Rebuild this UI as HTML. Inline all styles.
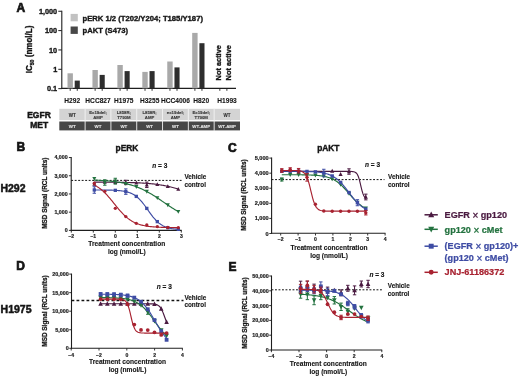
<!DOCTYPE html>
<html><head><meta charset="utf-8"><style>
html,body{margin:0;padding:0;background:#fff;}
svg{display:block;font-family:"Liberation Sans", Arial, sans-serif;}
</style></head><body>
<svg width="520" height="377" viewBox="0 0 520 377">
<rect width="520" height="377" fill="#fff"/>
<text x="16.60" y="12.20" font-size="12" text-anchor="start" font-weight="bold" fill="#151515" stroke="#151515" stroke-width="0.7">A</text>
<line x1="61.80" y1="10.75" x2="61.80" y2="88.90" stroke="#1e1e1e" stroke-width="1.1" />
<line x1="58.30" y1="11.25" x2="61.80" y2="11.25" stroke="#1e1e1e" stroke-width="1" />
<text x="57.20" y="13.85" font-size="7.3" text-anchor="end" font-weight="bold" fill="#151515" stroke="#151515" stroke-width="0.328">1,000</text>
<line x1="58.30" y1="30.60" x2="61.80" y2="30.60" stroke="#1e1e1e" stroke-width="1" />
<text x="57.20" y="33.20" font-size="7.3" text-anchor="end" font-weight="bold" fill="#151515" stroke="#151515" stroke-width="0.328">100</text>
<line x1="58.30" y1="49.95" x2="61.80" y2="49.95" stroke="#1e1e1e" stroke-width="1" />
<text x="57.20" y="52.55" font-size="7.3" text-anchor="end" font-weight="bold" fill="#151515" stroke="#151515" stroke-width="0.328">10</text>
<line x1="58.30" y1="69.30" x2="61.80" y2="69.30" stroke="#1e1e1e" stroke-width="1" />
<text x="57.20" y="71.90" font-size="7.3" text-anchor="end" font-weight="bold" fill="#151515" stroke="#151515" stroke-width="0.328">1</text>
<line x1="58.30" y1="88.65" x2="61.80" y2="88.65" stroke="#1e1e1e" stroke-width="1" />
<text x="57.20" y="91.25" font-size="7.3" text-anchor="end" font-weight="bold" fill="#151515" stroke="#151515" stroke-width="0.328">0.1</text>
<line x1="61.30" y1="88.40" x2="236.00" y2="88.40" stroke="#1e1e1e" stroke-width="1.1" />
<text transform="translate(31.6,49.5) rotate(-90)" font-size="8.6" text-anchor="middle" font-weight="bold" fill="#151515" stroke="#151515" stroke-width="0.35" textLength="47.6" lengthAdjust="spacingAndGlyphs">IC<tspan font-size="5.6" dy="2.1">50</tspan><tspan dy="-2.1"> (nmol/L)</tspan></text>
<rect x="67.50" y="73.30" width="5.40" height="15.10" fill="#a9a9a9"/>
<rect x="74.70" y="80.60" width="5.10" height="7.80" fill="#2e2e2e"/>
<rect x="92.44" y="70.00" width="5.40" height="18.40" fill="#a9a9a9"/>
<rect x="99.64" y="74.90" width="5.10" height="13.50" fill="#2e2e2e"/>
<rect x="117.38" y="65.00" width="5.40" height="23.40" fill="#a9a9a9"/>
<rect x="124.58" y="71.10" width="5.10" height="17.30" fill="#2e2e2e"/>
<rect x="142.32" y="71.90" width="5.40" height="16.50" fill="#a9a9a9"/>
<rect x="149.52" y="71.10" width="5.10" height="17.30" fill="#2e2e2e"/>
<rect x="167.26" y="61.50" width="5.40" height="26.90" fill="#a9a9a9"/>
<rect x="174.46" y="67.40" width="5.10" height="21.00" fill="#2e2e2e"/>
<rect x="192.20" y="32.90" width="5.40" height="55.50" fill="#a9a9a9"/>
<rect x="199.40" y="43.20" width="5.10" height="45.20" fill="#2e2e2e"/>
<line x1="70.20" y1="88.40" x2="70.20" y2="90.80" stroke="#1e1e1e" stroke-width="0.9" />
<line x1="77.25" y1="88.40" x2="77.25" y2="90.80" stroke="#1e1e1e" stroke-width="0.9" />
<line x1="95.14" y1="88.40" x2="95.14" y2="90.80" stroke="#1e1e1e" stroke-width="0.9" />
<line x1="102.19" y1="88.40" x2="102.19" y2="90.80" stroke="#1e1e1e" stroke-width="0.9" />
<line x1="120.08" y1="88.40" x2="120.08" y2="90.80" stroke="#1e1e1e" stroke-width="0.9" />
<line x1="127.13" y1="88.40" x2="127.13" y2="90.80" stroke="#1e1e1e" stroke-width="0.9" />
<line x1="145.02" y1="88.40" x2="145.02" y2="90.80" stroke="#1e1e1e" stroke-width="0.9" />
<line x1="152.07" y1="88.40" x2="152.07" y2="90.80" stroke="#1e1e1e" stroke-width="0.9" />
<line x1="169.96" y1="88.40" x2="169.96" y2="90.80" stroke="#1e1e1e" stroke-width="0.9" />
<line x1="177.01" y1="88.40" x2="177.01" y2="90.80" stroke="#1e1e1e" stroke-width="0.9" />
<line x1="194.90" y1="88.40" x2="194.90" y2="90.80" stroke="#1e1e1e" stroke-width="0.9" />
<line x1="201.95" y1="88.40" x2="201.95" y2="90.80" stroke="#1e1e1e" stroke-width="0.9" />
<line x1="219.84" y1="88.40" x2="219.84" y2="90.80" stroke="#1e1e1e" stroke-width="0.9" />
<line x1="226.89" y1="88.40" x2="226.89" y2="90.80" stroke="#1e1e1e" stroke-width="0.9" />
<text transform="translate(221.20,62.8) rotate(-90)" font-size="7.4" text-anchor="middle" font-weight="bold" fill="#151515" stroke="#151515" stroke-width="0.333">Not active</text>
<text transform="translate(231.00,62.8) rotate(-90)" font-size="7.4" text-anchor="middle" font-weight="bold" fill="#151515" stroke="#151515" stroke-width="0.333">Not active</text>
<rect x="70.60" y="13.90" width="7.20" height="7.40" fill="#c2c2c2"/>
<rect x="70.60" y="26.50" width="7.20" height="7.40" fill="#484848"/>
<text x="82.50" y="21.20" font-size="7.66" text-anchor="start" font-weight="bold" fill="#151515" stroke="#151515" stroke-width="0.345">pERK 1/2 (T202/Y204; T185/Y187)</text>
<text x="82.50" y="32.60" font-size="7.66" text-anchor="start" font-weight="bold" fill="#151515" stroke="#151515" stroke-width="0.345">pAKT (S473)</text>
<text x="72.20" y="103.10" font-size="6.6" text-anchor="middle" font-weight="bold" fill="#151515" stroke="#151515" stroke-width="0.1">H292</text>
<text x="98.01" y="103.10" font-size="6.6" text-anchor="middle" font-weight="bold" fill="#151515" stroke="#151515" stroke-width="0.1">HCC827</text>
<text x="123.82" y="103.10" font-size="6.6" text-anchor="middle" font-weight="bold" fill="#151515" stroke="#151515" stroke-width="0.1">H1975</text>
<text x="149.63" y="103.10" font-size="6.6" text-anchor="middle" font-weight="bold" fill="#151515" stroke="#151515" stroke-width="0.1">H3255</text>
<text x="175.44" y="103.10" font-size="6.6" text-anchor="middle" font-weight="bold" fill="#151515" stroke="#151515" stroke-width="0.1">HCC4006</text>
<text x="201.25" y="103.10" font-size="6.6" text-anchor="middle" font-weight="bold" fill="#151515" stroke="#151515" stroke-width="0.1">H820</text>
<text x="227.06" y="103.10" font-size="6.6" text-anchor="middle" font-weight="bold" fill="#151515" stroke="#151515" stroke-width="0.1">H1993</text>
<text x="27.20" y="118.00" font-size="8.5" text-anchor="start" font-weight="bold" fill="#151515" stroke="#151515" stroke-width="0.45">EGFR</text>
<text x="30.20" y="128.10" font-size="8.5" text-anchor="start" font-weight="bold" fill="#151515" stroke="#151515" stroke-width="0.45">MET</text>
<rect x="59.30" y="108.80" width="180.70" height="11.30" fill="#d4d4d4"/>
<rect x="59.30" y="121.50" width="180.70" height="8.90" fill="#474747"/>
<line x1="85.11" y1="108.80" x2="85.11" y2="130.80" stroke="#f4f4f4" stroke-width="0.9" />
<line x1="110.92" y1="108.80" x2="110.92" y2="130.80" stroke="#f4f4f4" stroke-width="0.9" />
<line x1="136.73" y1="108.80" x2="136.73" y2="130.80" stroke="#f4f4f4" stroke-width="0.9" />
<line x1="162.54" y1="108.80" x2="162.54" y2="130.80" stroke="#f4f4f4" stroke-width="0.9" />
<line x1="188.35" y1="108.80" x2="188.35" y2="130.80" stroke="#f4f4f4" stroke-width="0.9" />
<line x1="214.16" y1="108.80" x2="214.16" y2="130.80" stroke="#f4f4f4" stroke-width="0.9" />
<text x="72.20" y="116.90" font-size="4.5" text-anchor="middle" font-weight="bold" fill="#333" stroke="#333" stroke-width="0.12">WT</text>
<text x="72.20" y="127.90" font-size="4.4" text-anchor="middle" font-weight="bold" fill="#e6e6e6" stroke="#e6e6e6" stroke-width="0.1">WT</text>
<text x="98.01" y="114.20" font-size="4.3" text-anchor="middle" font-weight="bold" fill="#333" stroke="#333" stroke-width="0.1">Ex19del;</text>
<text x="98.01" y="118.70" font-size="4.3" text-anchor="middle" font-weight="bold" fill="#333" stroke="#333" stroke-width="0.1">AMP</text>
<text x="98.01" y="127.90" font-size="4.4" text-anchor="middle" font-weight="bold" fill="#e6e6e6" stroke="#e6e6e6" stroke-width="0.1">WT</text>
<text x="123.82" y="114.20" font-size="4.3" text-anchor="middle" font-weight="bold" fill="#333" stroke="#333" stroke-width="0.1">L858R;</text>
<text x="123.82" y="118.70" font-size="4.3" text-anchor="middle" font-weight="bold" fill="#333" stroke="#333" stroke-width="0.1">T790M</text>
<text x="123.82" y="127.90" font-size="4.4" text-anchor="middle" font-weight="bold" fill="#e6e6e6" stroke="#e6e6e6" stroke-width="0.1">WT</text>
<text x="149.63" y="114.20" font-size="4.3" text-anchor="middle" font-weight="bold" fill="#333" stroke="#333" stroke-width="0.1">L858R;</text>
<text x="149.63" y="118.70" font-size="4.3" text-anchor="middle" font-weight="bold" fill="#333" stroke="#333" stroke-width="0.1">AMP</text>
<text x="149.63" y="127.90" font-size="4.4" text-anchor="middle" font-weight="bold" fill="#e6e6e6" stroke="#e6e6e6" stroke-width="0.1">WT</text>
<text x="175.44" y="114.20" font-size="4.3" text-anchor="middle" font-weight="bold" fill="#333" stroke="#333" stroke-width="0.1">ex19del;</text>
<text x="175.44" y="118.70" font-size="4.3" text-anchor="middle" font-weight="bold" fill="#333" stroke="#333" stroke-width="0.1">AMP</text>
<text x="175.44" y="127.90" font-size="4.4" text-anchor="middle" font-weight="bold" fill="#e6e6e6" stroke="#e6e6e6" stroke-width="0.1">WT</text>
<text x="201.25" y="114.20" font-size="4.3" text-anchor="middle" font-weight="bold" fill="#333" stroke="#333" stroke-width="0.1">Ex19del;</text>
<text x="201.25" y="118.70" font-size="4.3" text-anchor="middle" font-weight="bold" fill="#333" stroke="#333" stroke-width="0.1">T790M</text>
<text x="201.25" y="127.90" font-size="4.4" text-anchor="middle" font-weight="bold" fill="#e6e6e6" stroke="#e6e6e6" stroke-width="0.1">WT-AMP</text>
<text x="227.06" y="116.90" font-size="4.5" text-anchor="middle" font-weight="bold" fill="#333" stroke="#333" stroke-width="0.12">WT</text>
<text x="227.06" y="127.90" font-size="4.4" text-anchor="middle" font-weight="bold" fill="#e6e6e6" stroke="#e6e6e6" stroke-width="0.1">WT-AMP</text>
<line x1="71.20" y1="157.02" x2="71.20" y2="230.90" stroke="#1e1e1e" stroke-width="1.1" />
<line x1="70.70" y1="230.40" x2="181.70" y2="230.40" stroke="#1e1e1e" stroke-width="1.1" />
<line x1="68.90" y1="230.40" x2="71.20" y2="230.40" stroke="#1e1e1e" stroke-width="0.9" />
<text x="67.70" y="232.31" font-size="5.3" text-anchor="end" font-weight="bold" fill="#1c1c1c" stroke="#1c1c1c" stroke-width="0.18">0</text>
<line x1="68.90" y1="212.18" x2="71.20" y2="212.18" stroke="#1e1e1e" stroke-width="0.9" />
<text x="67.70" y="214.09" font-size="5.3" text-anchor="end" font-weight="bold" fill="#1c1c1c" stroke="#1c1c1c" stroke-width="0.18">1,000</text>
<line x1="68.90" y1="193.96" x2="71.20" y2="193.96" stroke="#1e1e1e" stroke-width="0.9" />
<text x="67.70" y="195.87" font-size="5.3" text-anchor="end" font-weight="bold" fill="#1c1c1c" stroke="#1c1c1c" stroke-width="0.18">2,000</text>
<line x1="68.90" y1="175.74" x2="71.20" y2="175.74" stroke="#1e1e1e" stroke-width="0.9" />
<text x="67.70" y="177.65" font-size="5.3" text-anchor="end" font-weight="bold" fill="#1c1c1c" stroke="#1c1c1c" stroke-width="0.18">3,000</text>
<line x1="68.90" y1="157.52" x2="71.20" y2="157.52" stroke="#1e1e1e" stroke-width="0.9" />
<text x="67.70" y="159.43" font-size="5.3" text-anchor="end" font-weight="bold" fill="#1c1c1c" stroke="#1c1c1c" stroke-width="0.18">4,000</text>
<line x1="71.30" y1="230.40" x2="71.30" y2="232.60" stroke="#1e1e1e" stroke-width="0.9" />
<text x="71.30" y="238.00" font-size="5.1" text-anchor="middle" font-weight="bold" fill="#1c1c1c" stroke="#1c1c1c" stroke-width="0.18">−2</text>
<line x1="93.30" y1="230.40" x2="93.30" y2="232.60" stroke="#1e1e1e" stroke-width="0.9" />
<text x="93.30" y="238.00" font-size="5.1" text-anchor="middle" font-weight="bold" fill="#1c1c1c" stroke="#1c1c1c" stroke-width="0.18">−1</text>
<line x1="115.30" y1="230.40" x2="115.30" y2="232.60" stroke="#1e1e1e" stroke-width="0.9" />
<text x="115.30" y="238.00" font-size="5.1" text-anchor="middle" font-weight="bold" fill="#1c1c1c" stroke="#1c1c1c" stroke-width="0.18">0</text>
<line x1="137.30" y1="230.40" x2="137.30" y2="232.60" stroke="#1e1e1e" stroke-width="0.9" />
<text x="137.30" y="238.00" font-size="5.1" text-anchor="middle" font-weight="bold" fill="#1c1c1c" stroke="#1c1c1c" stroke-width="0.18">1</text>
<line x1="159.30" y1="230.40" x2="159.30" y2="232.60" stroke="#1e1e1e" stroke-width="0.9" />
<text x="159.30" y="238.00" font-size="5.1" text-anchor="middle" font-weight="bold" fill="#1c1c1c" stroke="#1c1c1c" stroke-width="0.18">2</text>
<line x1="181.30" y1="230.40" x2="181.30" y2="232.60" stroke="#1e1e1e" stroke-width="0.9" />
<text x="181.30" y="238.00" font-size="5.1" text-anchor="middle" font-weight="bold" fill="#1c1c1c" stroke="#1c1c1c" stroke-width="0.18">3</text>
<line x1="71.20" y1="180.40" x2="182.50" y2="180.40" stroke="#111" stroke-width="1.0" stroke-dasharray="1.9,1.6"/>
<path d="M94.30,182.16L95.23,182.16L96.17,182.16L97.10,182.17L98.03,182.17L98.97,182.17L99.90,182.18L100.83,182.18L101.77,182.19L102.70,182.19L103.63,182.19L104.57,182.20L105.50,182.20L106.43,182.21L107.37,182.22L108.30,182.22L109.23,182.23L110.17,182.24L111.10,182.24L112.03,182.25L112.97,182.26L113.90,182.27L114.83,182.28L115.77,182.29L116.70,182.30L117.63,182.31L118.57,182.32L119.50,182.33L120.43,182.35L121.37,182.36L122.30,182.38L123.23,182.39L124.17,182.41L125.10,182.43L126.03,182.45L126.97,182.47L127.90,182.49L128.83,182.51L129.77,182.54L130.70,182.57L131.63,182.59L132.57,182.62L133.50,182.65L134.43,182.69L135.37,182.72L136.30,182.76L137.23,182.80L138.17,182.84L139.10,182.88L140.03,182.93L140.97,182.98L141.90,183.03L142.83,183.09L143.77,183.15L144.70,183.21L145.63,183.27L146.57,183.34L147.50,183.42L148.43,183.49L149.37,183.57L150.30,183.66L151.23,183.75L152.17,183.84L153.10,183.94L154.03,184.05L154.97,184.16L155.90,184.27L156.83,184.40L157.77,184.52L158.70,184.66L159.63,184.80L160.57,184.95L161.50,185.10L162.43,185.26L163.37,185.43L164.30,185.60L165.23,185.78L166.17,185.97L167.10,186.17L168.03,186.38L168.97,186.59L169.90,186.81L170.83,187.03L171.77,187.27L172.70,187.51L173.63,187.76L174.57,188.02L175.50,188.28L176.43,188.55L177.37,188.83L178.30,189.11" stroke="#4a1a40" stroke-width="1.15" fill="none" />
<path d="M92.29,185.64L96.31,185.64L94.30,181.79Z" fill="#4a1a40"/>
<path d="M102.79,183.86L106.81,183.86L104.80,180.01Z" fill="#4a1a40"/>
<path d="M113.29,183.94L117.31,183.94L115.30,180.09Z" fill="#4a1a40"/>
<line x1="125.80" y1="180.26" x2="125.80" y2="184.63" stroke="#4a1a40" stroke-width="1.0" />
<line x1="124.10" y1="180.26" x2="127.50" y2="180.26" stroke="#4a1a40" stroke-width="1.0" />
<line x1="124.10" y1="184.63" x2="127.50" y2="184.63" stroke="#4a1a40" stroke-width="1.0" />
<path d="M123.79,184.11L127.81,184.11L125.80,180.26Z" fill="#4a1a40"/>
<path d="M134.29,184.42L138.31,184.42L136.30,180.57Z" fill="#4a1a40"/>
<line x1="146.80" y1="182.09" x2="146.80" y2="187.55" stroke="#4a1a40" stroke-width="1.0" />
<line x1="145.10" y1="182.09" x2="148.50" y2="182.09" stroke="#4a1a40" stroke-width="1.0" />
<line x1="145.10" y1="187.55" x2="148.50" y2="187.55" stroke="#4a1a40" stroke-width="1.0" />
<path d="M144.79,186.48L148.81,186.48L146.80,182.63Z" fill="#4a1a40"/>
<path d="M155.29,186.12L159.31,186.12L157.30,182.27Z" fill="#4a1a40"/>
<path d="M165.79,187.99L169.81,187.99L167.80,184.14Z" fill="#4a1a40"/>
<path d="M176.29,190.77L180.31,190.77L178.30,186.92Z" fill="#4a1a40"/>
<path d="M94.30,180.07L95.23,180.11L96.17,180.15L97.10,180.19L98.03,180.24L98.97,180.29L99.90,180.34L100.83,180.40L101.77,180.45L102.70,180.51L103.63,180.58L104.57,180.64L105.50,180.71L106.43,180.79L107.37,180.87L108.30,180.95L109.23,181.04L110.17,181.13L111.10,181.23L112.03,181.33L112.97,181.44L113.90,181.55L114.83,181.67L115.77,181.79L116.70,181.93L117.63,182.06L118.57,182.21L119.50,182.36L120.43,182.52L121.37,182.69L122.30,182.87L123.23,183.05L124.17,183.25L125.10,183.45L126.03,183.67L126.97,183.89L127.90,184.12L128.83,184.37L129.77,184.62L130.70,184.89L131.63,185.17L132.57,185.46L133.50,185.76L134.43,186.08L135.37,186.40L136.30,186.75L137.23,187.10L138.17,187.47L139.10,187.85L140.03,188.24L140.97,188.65L141.90,189.07L142.83,189.51L143.77,189.96L144.70,190.42L145.63,190.90L146.57,191.39L147.50,191.90L148.43,192.41L149.37,192.94L150.30,193.49L151.23,194.04L152.17,194.60L153.10,195.18L154.03,195.77L154.97,196.36L155.90,196.96L156.83,197.58L157.77,198.19L158.70,198.82L159.63,199.45L160.57,200.08L161.50,200.72L162.43,201.36L163.37,202.00L164.30,202.64L165.23,203.28L166.17,203.92L167.10,204.55L168.03,205.19L168.97,205.81L169.90,206.43L170.83,207.05L171.77,207.66L172.70,208.26L173.63,208.85L174.57,209.43L175.50,210.00L176.43,210.56L177.37,211.10L178.30,211.64" stroke="#23723f" stroke-width="1.15" fill="none" />
<path d="M92.29,176.95L96.31,176.95L94.30,180.80Z" fill="#23723f"/>
<line x1="104.80" y1="179.75" x2="104.80" y2="185.22" stroke="#23723f" stroke-width="1.0" />
<line x1="103.10" y1="179.75" x2="106.50" y2="179.75" stroke="#23723f" stroke-width="1.0" />
<line x1="103.10" y1="185.22" x2="106.50" y2="185.22" stroke="#23723f" stroke-width="1.0" />
<path d="M102.79,180.82L106.81,180.82L104.80,184.67Z" fill="#23723f"/>
<line x1="115.30" y1="178.27" x2="115.30" y2="184.10" stroke="#23723f" stroke-width="1.0" />
<line x1="113.60" y1="178.27" x2="117.00" y2="178.27" stroke="#23723f" stroke-width="1.0" />
<line x1="113.60" y1="184.10" x2="117.00" y2="184.10" stroke="#23723f" stroke-width="1.0" />
<path d="M113.29,179.52L117.31,179.52L115.30,183.37Z" fill="#23723f"/>
<path d="M123.79,181.95L127.81,181.95L125.80,185.80Z" fill="#23723f"/>
<path d="M134.29,185.08L138.31,185.08L136.30,188.93Z" fill="#23723f"/>
<path d="M144.79,189.85L148.81,189.85L146.80,193.70Z" fill="#23723f"/>
<path d="M155.29,196.22L159.31,196.22L157.30,200.07Z" fill="#23723f"/>
<path d="M165.79,203.37L169.81,203.37L167.80,207.22Z" fill="#23723f"/>
<path d="M176.29,209.98L180.31,209.98L178.30,213.83Z" fill="#23723f"/>
<path d="M94.30,189.97L95.23,189.97L96.17,189.98L97.10,189.98L98.03,189.98L98.97,189.99L99.90,189.99L100.83,190.00L101.77,190.01L102.70,190.02L103.63,190.02L104.57,190.03L105.50,190.05L106.43,190.06L107.37,190.08L108.30,190.09L109.23,190.11L110.17,190.14L111.10,190.16L112.03,190.19L112.97,190.23L113.90,190.26L114.83,190.31L115.77,190.36L116.70,190.42L117.63,190.48L118.57,190.56L119.50,190.64L120.43,190.74L121.37,190.85L122.30,190.97L123.23,191.11L124.17,191.27L125.10,191.45L126.03,191.66L126.97,191.89L127.90,192.15L128.83,192.44L129.77,192.77L130.70,193.14L131.63,193.55L132.57,194.01L133.50,194.52L134.43,195.09L135.37,195.71L136.30,196.40L137.23,197.15L138.17,197.97L139.10,198.86L140.03,199.81L140.97,200.83L141.90,201.92L142.83,203.06L143.77,204.25L144.70,205.50L145.63,206.78L146.57,208.08L147.50,209.40L148.43,210.73L149.37,212.05L150.30,213.35L151.23,214.62L152.17,215.85L153.10,217.04L154.03,218.17L154.97,219.23L155.90,220.24L156.83,221.18L157.77,222.05L158.70,222.85L159.63,223.58L160.57,224.25L161.50,224.86L162.43,225.42L163.37,225.92L164.30,226.36L165.23,226.76L166.17,227.12L167.10,227.44L168.03,227.73L168.97,227.98L169.90,228.20L170.83,228.40L171.77,228.58L172.70,228.73L173.63,228.87L174.57,228.99L175.50,229.09L176.43,229.19L177.37,229.27L178.30,229.34" stroke="#3e4ca4" stroke-width="1.15" fill="none" />
<line x1="94.30" y1="186.69" x2="94.30" y2="193.25" stroke="#3e4ca4" stroke-width="1.0" />
<line x1="92.60" y1="186.69" x2="96.00" y2="186.69" stroke="#3e4ca4" stroke-width="1.0" />
<line x1="92.60" y1="193.25" x2="96.00" y2="193.25" stroke="#3e4ca4" stroke-width="1.0" />
<rect x="92.64" y="188.31" width="3.32" height="3.32" fill="#3e4ca4"/>
<rect x="113.64" y="188.67" width="3.32" height="3.32" fill="#3e4ca4"/>
<line x1="125.80" y1="188.87" x2="125.80" y2="194.34" stroke="#3e4ca4" stroke-width="1.0" />
<line x1="124.10" y1="188.87" x2="127.50" y2="188.87" stroke="#3e4ca4" stroke-width="1.0" />
<line x1="124.10" y1="194.34" x2="127.50" y2="194.34" stroke="#3e4ca4" stroke-width="1.0" />
<rect x="124.14" y="189.94" width="3.32" height="3.32" fill="#3e4ca4"/>
<rect x="134.64" y="194.74" width="3.32" height="3.32" fill="#3e4ca4"/>
<rect x="145.14" y="206.75" width="3.32" height="3.32" fill="#3e4ca4"/>
<rect x="155.64" y="219.96" width="3.32" height="3.32" fill="#3e4ca4"/>
<rect x="166.14" y="226.00" width="3.32" height="3.32" fill="#3e4ca4"/>
<rect x="176.64" y="227.68" width="3.32" height="3.32" fill="#3e4ca4"/>
<path d="M94.30,185.08L95.23,185.56L96.17,186.07L97.10,186.63L98.03,187.22L98.97,187.85L99.90,188.53L100.83,189.25L101.77,190.01L102.70,190.81L103.63,191.66L104.57,192.55L105.50,193.49L106.43,194.46L107.37,195.47L108.30,196.51L109.23,197.59L110.17,198.69L111.10,199.81L112.03,200.95L112.97,202.11L113.90,203.27L114.83,204.44L115.77,205.60L116.70,206.75L117.63,207.89L118.57,209.01L119.50,210.10L120.43,211.17L121.37,212.20L122.30,213.20L123.23,214.17L124.17,215.09L125.10,215.97L126.03,216.81L126.97,217.60L127.90,218.35L128.83,219.06L129.77,219.73L130.70,220.35L131.63,220.93L132.57,221.48L133.50,221.98L134.43,222.45L135.37,222.89L136.30,223.29L137.23,223.66L138.17,224.00L139.10,224.32L140.03,224.61L140.97,224.88L141.90,225.12L142.83,225.34L143.77,225.55L144.70,225.74L145.63,225.91L146.57,226.07L147.50,226.21L148.43,226.34L149.37,226.46L150.30,226.57L151.23,226.67L152.17,226.76L153.10,226.84L154.03,226.92L154.97,226.99L155.90,227.05L156.83,227.11L157.77,227.16L158.70,227.20L159.63,227.25L160.57,227.29L161.50,227.32L162.43,227.35L163.37,227.38L164.30,227.41L165.23,227.43L166.17,227.45L167.10,227.47L168.03,227.49L168.97,227.51L169.90,227.52L170.83,227.54L171.77,227.55L172.70,227.56L173.63,227.57L174.57,227.58L175.50,227.59L176.43,227.59L177.37,227.60L178.30,227.61" stroke="#a82230" stroke-width="1.15" fill="none" />
<circle cx="94.30" cy="183.26" r="1.66" fill="#a82230"/>
<circle cx="104.80" cy="191.33" r="1.66" fill="#a82230"/>
<circle cx="115.30" cy="208.30" r="1.66" fill="#a82230"/>
<circle cx="125.80" cy="216.60" r="1.66" fill="#a82230"/>
<circle cx="136.30" cy="223.29" r="1.66" fill="#a82230"/>
<circle cx="146.80" cy="225.01" r="1.66" fill="#a82230"/>
<circle cx="157.30" cy="226.59" r="1.66" fill="#a82230"/>
<circle cx="167.80" cy="227.49" r="1.66" fill="#a82230"/>
<circle cx="178.30" cy="227.61" r="1.66" fill="#a82230"/>
<text x="127.00" y="150.50" font-size="8.4" text-anchor="middle" font-weight="bold" fill="#151515" stroke="#151515" stroke-width="0.378">pERK</text>
<text x="152.30" y="167.80" font-size="6.5" text-anchor="start" font-weight="bold" fill="#151515" stroke="#151515" stroke-width="0.15"><tspan font-style="italic">n</tspan> = 3</text>
<text x="184.40" y="179.30" font-size="6.35" text-anchor="start" font-weight="bold" fill="#151515" stroke="#151515" stroke-width="0.12">Vehicle</text>
<text x="184.40" y="187.00" font-size="6.35" text-anchor="start" font-weight="bold" fill="#151515" stroke="#151515" stroke-width="0.12">control</text>
<text x="126.80" y="246.20" font-size="6.6" text-anchor="middle" font-weight="bold" fill="#151515" stroke="#151515" stroke-width="0.12">Treatment concentration</text>
<text x="126.80" y="254.00" font-size="6.6" text-anchor="middle" font-weight="bold" fill="#151515" stroke="#151515" stroke-width="0.12">log (nmol/L)</text>
<text transform="translate(47.00,193.20) rotate(-90)" font-size="6.4" text-anchor="middle" font-weight="bold" fill="#151515" stroke="#151515" stroke-width="0.25">MSD Signal (RCL units)</text>
<line x1="271.60" y1="157.60" x2="271.60" y2="233.80" stroke="#1e1e1e" stroke-width="1.1" />
<line x1="271.10" y1="233.30" x2="385.50" y2="233.30" stroke="#1e1e1e" stroke-width="1.1" />
<line x1="269.30" y1="233.50" x2="271.60" y2="233.50" stroke="#1e1e1e" stroke-width="0.9" />
<text x="268.70" y="235.52" font-size="5.6" text-anchor="end" font-weight="bold" fill="#1c1c1c" stroke="#1c1c1c" stroke-width="0.18">0</text>
<line x1="269.30" y1="218.42" x2="271.60" y2="218.42" stroke="#1e1e1e" stroke-width="0.9" />
<text x="268.70" y="220.44" font-size="5.6" text-anchor="end" font-weight="bold" fill="#1c1c1c" stroke="#1c1c1c" stroke-width="0.18">1,000</text>
<line x1="269.30" y1="203.34" x2="271.60" y2="203.34" stroke="#1e1e1e" stroke-width="0.9" />
<text x="268.70" y="205.36" font-size="5.6" text-anchor="end" font-weight="bold" fill="#1c1c1c" stroke="#1c1c1c" stroke-width="0.18">2,000</text>
<line x1="269.30" y1="188.26" x2="271.60" y2="188.26" stroke="#1e1e1e" stroke-width="0.9" />
<text x="268.70" y="190.28" font-size="5.6" text-anchor="end" font-weight="bold" fill="#1c1c1c" stroke="#1c1c1c" stroke-width="0.18">3,000</text>
<line x1="269.30" y1="173.18" x2="271.60" y2="173.18" stroke="#1e1e1e" stroke-width="0.9" />
<text x="268.70" y="175.20" font-size="5.6" text-anchor="end" font-weight="bold" fill="#1c1c1c" stroke="#1c1c1c" stroke-width="0.18">4,000</text>
<line x1="269.30" y1="158.10" x2="271.60" y2="158.10" stroke="#1e1e1e" stroke-width="0.9" />
<text x="268.70" y="160.12" font-size="5.6" text-anchor="end" font-weight="bold" fill="#1c1c1c" stroke="#1c1c1c" stroke-width="0.18">5,000</text>
<line x1="280.70" y1="233.30" x2="280.70" y2="235.50" stroke="#1e1e1e" stroke-width="0.9" />
<text x="280.70" y="241.40" font-size="5.1" text-anchor="middle" font-weight="bold" fill="#1c1c1c" stroke="#1c1c1c" stroke-width="0.18">−2</text>
<line x1="298.10" y1="233.30" x2="298.10" y2="235.50" stroke="#1e1e1e" stroke-width="0.9" />
<text x="298.10" y="241.40" font-size="5.1" text-anchor="middle" font-weight="bold" fill="#1c1c1c" stroke="#1c1c1c" stroke-width="0.18">−1</text>
<line x1="315.50" y1="233.30" x2="315.50" y2="235.50" stroke="#1e1e1e" stroke-width="0.9" />
<text x="315.50" y="241.40" font-size="5.1" text-anchor="middle" font-weight="bold" fill="#1c1c1c" stroke="#1c1c1c" stroke-width="0.18">0</text>
<line x1="332.90" y1="233.30" x2="332.90" y2="235.50" stroke="#1e1e1e" stroke-width="0.9" />
<text x="332.90" y="241.40" font-size="5.1" text-anchor="middle" font-weight="bold" fill="#1c1c1c" stroke="#1c1c1c" stroke-width="0.18">1</text>
<line x1="350.30" y1="233.30" x2="350.30" y2="235.50" stroke="#1e1e1e" stroke-width="0.9" />
<text x="350.30" y="241.40" font-size="5.1" text-anchor="middle" font-weight="bold" fill="#1c1c1c" stroke="#1c1c1c" stroke-width="0.18">2</text>
<line x1="367.70" y1="233.30" x2="367.70" y2="235.50" stroke="#1e1e1e" stroke-width="0.9" />
<text x="367.70" y="241.40" font-size="5.1" text-anchor="middle" font-weight="bold" fill="#1c1c1c" stroke="#1c1c1c" stroke-width="0.18">3</text>
<line x1="385.10" y1="233.30" x2="385.10" y2="235.50" stroke="#1e1e1e" stroke-width="0.9" />
<text x="385.10" y="241.40" font-size="5.1" text-anchor="middle" font-weight="bold" fill="#1c1c1c" stroke="#1c1c1c" stroke-width="0.18">4</text>
<line x1="271.60" y1="179.60" x2="384.50" y2="179.60" stroke="#111" stroke-width="1.0" stroke-dasharray="1.9,1.6"/>
<path d="M281.80,171.37L282.73,171.37L283.67,171.37L284.60,171.37L285.53,171.37L286.47,171.37L287.40,171.37L288.33,171.37L289.27,171.37L290.20,171.37L291.13,171.37L292.07,171.37L293.00,171.37L293.93,171.37L294.87,171.37L295.80,171.37L296.73,171.37L297.67,171.37L298.60,171.37L299.53,171.37L300.47,171.37L301.40,171.37L302.33,171.37L303.27,171.37L304.20,171.37L305.13,171.37L306.07,171.37L307.00,171.37L307.93,171.37L308.87,171.37L309.80,171.37L310.73,171.37L311.67,171.37L312.60,171.37L313.53,171.37L314.47,171.37L315.40,171.37L316.33,171.37L317.27,171.37L318.20,171.37L319.13,171.37L320.07,171.37L321.00,171.37L321.93,171.37L322.87,171.37L323.80,171.37L324.73,171.37L325.67,171.37L326.60,171.37L327.53,171.37L328.47,171.37L329.40,171.37L330.33,171.37L331.27,171.37L332.20,171.37L333.13,171.37L334.07,171.37L335.00,171.37L335.93,171.37L336.87,171.37L337.80,171.37L338.73,171.37L339.67,171.37L340.60,171.37L341.53,171.37L342.47,171.37L343.40,171.37L344.33,171.37L345.27,171.37L346.20,171.37L347.13,171.38L348.07,171.38L349.00,171.39L349.93,171.41L350.87,171.43L351.80,171.48L352.73,171.57L353.67,171.72L354.60,171.99L355.53,172.45L356.47,173.23L357.40,174.52L358.33,176.53L359.27,179.40L360.20,183.06L361.13,187.09L362.07,190.86L363.00,193.91L363.93,196.08L364.87,197.49L365.80,198.36" stroke="#4a1a40" stroke-width="1.15" fill="none" />
<path d="M330.13,172.63L334.27,172.63L332.20,168.67Z" fill="#4a1a40"/>
<path d="M338.53,175.95L342.67,175.95L340.60,171.99Z" fill="#4a1a40"/>
<line x1="349.00" y1="168.81" x2="349.00" y2="174.24" stroke="#4a1a40" stroke-width="1.0" />
<line x1="347.30" y1="168.81" x2="350.70" y2="168.81" stroke="#4a1a40" stroke-width="1.0" />
<line x1="347.30" y1="174.24" x2="350.70" y2="174.24" stroke="#4a1a40" stroke-width="1.0" />
<path d="M346.93,173.23L351.07,173.23L349.00,169.27Z" fill="#4a1a40"/>
<line x1="365.80" y1="194.14" x2="365.80" y2="199.87" stroke="#4a1a40" stroke-width="1.0" />
<line x1="364.10" y1="194.14" x2="367.50" y2="194.14" stroke="#4a1a40" stroke-width="1.0" />
<line x1="364.10" y1="199.87" x2="367.50" y2="199.87" stroke="#4a1a40" stroke-width="1.0" />
<path d="M363.73,198.72L367.87,198.72L365.80,194.76Z" fill="#4a1a40"/>
<path d="M281.80,174.70L282.73,174.70L283.67,174.70L284.60,174.70L285.53,174.70L286.47,174.70L287.40,174.71L288.33,174.71L289.27,174.71L290.20,174.71L291.13,174.72L292.07,174.72L293.00,174.73L293.93,174.73L294.87,174.74L295.80,174.74L296.73,174.75L297.67,174.75L298.60,174.76L299.53,174.77L300.47,174.78L301.40,174.79L302.33,174.81L303.27,174.82L304.20,174.84L305.13,174.86L306.07,174.88L307.00,174.90L307.93,174.92L308.87,174.95L309.80,174.99L310.73,175.02L311.67,175.06L312.60,175.11L313.53,175.16L314.47,175.21L315.40,175.28L316.33,175.35L317.27,175.43L318.20,175.51L319.13,175.61L320.07,175.72L321.00,175.84L321.93,175.98L322.87,176.13L323.80,176.30L324.73,176.49L325.67,176.70L326.60,176.93L327.53,177.18L328.47,177.46L329.40,177.77L330.33,178.12L331.27,178.49L332.20,178.90L333.13,179.35L334.07,179.85L335.00,180.38L335.93,180.96L336.87,181.58L337.80,182.26L338.73,182.98L339.67,183.75L340.60,184.56L341.53,185.42L342.47,186.33L343.40,187.27L344.33,188.26L345.27,189.27L346.20,190.31L347.13,191.38L348.07,192.45L349.00,193.54L349.93,194.62L350.87,195.70L351.80,196.76L352.73,197.80L353.67,198.82L354.60,199.80L355.53,200.75L356.47,201.65L357.40,202.51L358.33,203.33L359.27,204.10L360.20,204.82L361.13,205.49L362.07,206.12L363.00,206.70L363.93,207.23L364.87,207.72L365.80,208.17" stroke="#23723f" stroke-width="1.15" fill="none" />
<line x1="281.80" y1="178.02" x2="281.80" y2="181.03" stroke="#23723f" stroke-width="1.0" />
<line x1="280.10" y1="178.02" x2="283.50" y2="178.02" stroke="#23723f" stroke-width="1.0" />
<line x1="280.10" y1="181.03" x2="283.50" y2="181.03" stroke="#23723f" stroke-width="1.0" />
<path d="M279.73,177.81L283.87,177.81L281.80,181.77Z" fill="#23723f"/>
<path d="M288.13,173.00L292.27,173.00L290.20,176.96Z" fill="#23723f"/>
<path d="M296.53,173.05L300.67,173.05L298.60,177.01Z" fill="#23723f"/>
<path d="M304.93,173.19L309.07,173.19L307.00,177.15Z" fill="#23723f"/>
<path d="M313.33,173.57L317.47,173.57L315.40,177.53Z" fill="#23723f"/>
<path d="M321.73,174.59L325.87,174.59L323.80,178.55Z" fill="#23723f"/>
<path d="M330.13,177.19L334.27,177.19L332.20,181.15Z" fill="#23723f"/>
<path d="M338.53,182.85L342.67,182.85L340.60,186.81Z" fill="#23723f"/>
<path d="M346.93,191.83L351.07,191.83L349.00,195.79Z" fill="#23723f"/>
<path d="M355.33,200.80L359.47,200.80L357.40,204.76Z" fill="#23723f"/>
<path d="M363.73,206.46L367.87,206.46L365.80,210.42Z" fill="#23723f"/>
<path d="M281.80,171.23L282.73,171.23L283.67,171.23L284.60,171.23L285.53,171.24L286.47,171.24L287.40,171.24L288.33,171.24L289.27,171.25L290.20,171.25L291.13,171.25L292.07,171.26L293.00,171.26L293.93,171.27L294.87,171.27L295.80,171.28L296.73,171.29L297.67,171.30L298.60,171.30L299.53,171.31L300.47,171.33L301.40,171.34L302.33,171.35L303.27,171.37L304.20,171.39L305.13,171.41L306.07,171.43L307.00,171.46L307.93,171.49L308.87,171.52L309.80,171.56L310.73,171.60L311.67,171.64L312.60,171.69L313.53,171.75L314.47,171.81L315.40,171.89L316.33,171.97L317.27,172.05L318.20,172.15L319.13,172.27L320.07,172.39L321.00,172.53L321.93,172.68L322.87,172.85L323.80,173.04L324.73,173.26L325.67,173.49L326.60,173.75L327.53,174.04L328.47,174.36L329.40,174.71L330.33,175.10L331.27,175.52L332.20,175.99L333.13,176.50L334.07,177.06L335.00,177.66L335.93,178.32L336.87,179.03L337.80,179.79L338.73,180.60L339.67,181.47L340.60,182.40L341.53,183.37L342.47,184.40L343.40,185.47L344.33,186.58L345.27,187.73L346.20,188.91L347.13,190.11L348.07,191.33L349.00,192.56L349.93,193.78L350.87,195.00L351.80,196.21L352.73,197.39L353.67,198.54L354.60,199.65L355.53,200.72L356.47,201.74L357.40,202.72L358.33,203.64L359.27,204.51L360.20,205.33L361.13,206.09L362.07,206.80L363.00,207.45L363.93,208.06L364.87,208.61L365.80,209.12" stroke="#3e4ca4" stroke-width="1.15" fill="none" />
<rect x="280.09" y="169.52" width="3.42" height="3.42" fill="#3e4ca4"/>
<rect x="288.49" y="169.54" width="3.42" height="3.42" fill="#3e4ca4"/>
<rect x="296.89" y="169.59" width="3.42" height="3.42" fill="#3e4ca4"/>
<rect x="305.29" y="169.75" width="3.42" height="3.42" fill="#3e4ca4"/>
<rect x="313.69" y="170.18" width="3.42" height="3.42" fill="#3e4ca4"/>
<line x1="323.80" y1="169.27" x2="323.80" y2="176.81" stroke="#3e4ca4" stroke-width="1.0" />
<line x1="322.10" y1="169.27" x2="325.50" y2="169.27" stroke="#3e4ca4" stroke-width="1.0" />
<line x1="322.10" y1="176.81" x2="325.50" y2="176.81" stroke="#3e4ca4" stroke-width="1.0" />
<rect x="322.09" y="171.33" width="3.42" height="3.42" fill="#3e4ca4"/>
<rect x="330.49" y="174.28" width="3.42" height="3.42" fill="#3e4ca4"/>
<rect x="338.89" y="180.69" width="3.42" height="3.42" fill="#3e4ca4"/>
<rect x="347.29" y="190.85" width="3.42" height="3.42" fill="#3e4ca4"/>
<line x1="357.40" y1="199.70" x2="357.40" y2="205.74" stroke="#3e4ca4" stroke-width="1.0" />
<line x1="355.70" y1="199.70" x2="359.10" y2="199.70" stroke="#3e4ca4" stroke-width="1.0" />
<line x1="355.70" y1="205.74" x2="359.10" y2="205.74" stroke="#3e4ca4" stroke-width="1.0" />
<rect x="355.69" y="201.01" width="3.42" height="3.42" fill="#3e4ca4"/>
<rect x="364.09" y="207.41" width="3.42" height="3.42" fill="#3e4ca4"/>
<path d="M281.80,170.47L282.73,170.47L283.67,170.47L284.60,170.47L285.53,170.47L286.47,170.47L287.40,170.47L288.33,170.47L289.27,170.47L290.20,170.47L291.13,170.48L292.07,170.48L293.00,170.49L293.93,170.50L294.87,170.52L295.80,170.55L296.73,170.59L297.67,170.64L298.60,170.73L299.53,170.85L300.47,171.02L301.40,171.28L302.33,171.65L303.27,172.18L304.20,172.94L305.13,173.99L306.07,175.44L307.00,177.37L307.93,179.85L308.87,182.90L309.80,186.44L310.73,190.28L311.67,194.15L312.60,197.80L313.53,200.99L314.47,203.64L315.40,205.72L316.33,207.30L317.27,208.45L318.20,209.28L319.13,209.87L320.07,210.28L321.00,210.56L321.93,210.76L322.87,210.89L323.80,210.98L324.73,211.05L325.67,211.09L326.60,211.12L327.53,211.14L328.47,211.15L329.40,211.16L330.33,211.17L331.27,211.17L332.20,211.18L333.13,211.18L334.07,211.18L335.00,211.18L335.93,211.18L336.87,211.18L337.80,211.18L338.73,211.18L339.67,211.18L340.60,211.18L341.53,211.18L342.47,211.18L343.40,211.18L344.33,211.18L345.27,211.18L346.20,211.18L347.13,211.18L348.07,211.18L349.00,211.18L349.93,211.18L350.87,211.18L351.80,211.18L352.73,211.18L353.67,211.18L354.60,211.18L355.53,211.18L356.47,211.18L357.40,211.18L358.33,211.18L359.27,211.18L360.20,211.18L361.13,211.18L362.07,211.18L363.00,211.18L363.93,211.18L364.87,211.18L365.80,211.18" stroke="#a82230" stroke-width="1.15" fill="none" />
<line x1="281.80" y1="168.66" x2="281.80" y2="172.28" stroke="#a82230" stroke-width="1.0" />
<line x1="280.10" y1="168.66" x2="283.50" y2="168.66" stroke="#a82230" stroke-width="1.0" />
<line x1="280.10" y1="172.28" x2="283.50" y2="172.28" stroke="#a82230" stroke-width="1.0" />
<circle cx="281.80" cy="170.47" r="1.71" fill="#a82230"/>
<line x1="290.20" y1="167.76" x2="290.20" y2="171.38" stroke="#a82230" stroke-width="1.0" />
<line x1="288.50" y1="167.76" x2="291.90" y2="167.76" stroke="#a82230" stroke-width="1.0" />
<line x1="288.50" y1="171.38" x2="291.90" y2="171.38" stroke="#a82230" stroke-width="1.0" />
<circle cx="290.20" cy="169.57" r="1.71" fill="#a82230"/>
<line x1="298.60" y1="168.46" x2="298.60" y2="172.99" stroke="#a82230" stroke-width="1.0" />
<line x1="296.90" y1="168.46" x2="300.30" y2="168.46" stroke="#a82230" stroke-width="1.0" />
<line x1="296.90" y1="172.99" x2="300.30" y2="172.99" stroke="#a82230" stroke-width="1.0" />
<circle cx="298.60" cy="170.73" r="1.71" fill="#a82230"/>
<line x1="307.00" y1="173.60" x2="307.00" y2="181.14" stroke="#a82230" stroke-width="1.0" />
<line x1="305.30" y1="173.60" x2="308.70" y2="173.60" stroke="#a82230" stroke-width="1.0" />
<line x1="305.30" y1="181.14" x2="308.70" y2="181.14" stroke="#a82230" stroke-width="1.0" />
<circle cx="307.00" cy="177.37" r="1.71" fill="#a82230"/>
<circle cx="315.40" cy="204.21" r="1.71" fill="#a82230"/>
<circle cx="323.80" cy="210.98" r="1.71" fill="#a82230"/>
<circle cx="332.20" cy="211.18" r="1.71" fill="#a82230"/>
<circle cx="340.60" cy="211.18" r="1.71" fill="#a82230"/>
<circle cx="349.00" cy="211.18" r="1.71" fill="#a82230"/>
<circle cx="357.40" cy="211.18" r="1.71" fill="#a82230"/>
<line x1="365.80" y1="210.43" x2="365.80" y2="214.95" stroke="#a82230" stroke-width="1.0" />
<line x1="364.10" y1="210.43" x2="367.50" y2="210.43" stroke="#a82230" stroke-width="1.0" />
<line x1="364.10" y1="214.95" x2="367.50" y2="214.95" stroke="#a82230" stroke-width="1.0" />
<circle cx="365.80" cy="212.69" r="1.71" fill="#a82230"/>
<text x="328.30" y="150.60" font-size="8.4" text-anchor="middle" font-weight="bold" fill="#151515" stroke="#151515" stroke-width="0.378">pAKT</text>
<text x="365.00" y="167.40" font-size="6.5" text-anchor="start" font-weight="bold" fill="#151515" stroke="#151515" stroke-width="0.15"><tspan font-style="italic">n</tspan> = 3</text>
<text x="388.10" y="179.20" font-size="6.35" text-anchor="start" font-weight="bold" fill="#151515" stroke="#151515" stroke-width="0.12">Vehicle</text>
<text x="388.10" y="186.90" font-size="6.35" text-anchor="start" font-weight="bold" fill="#151515" stroke="#151515" stroke-width="0.12">control</text>
<text x="329.00" y="250.00" font-size="6.6" text-anchor="middle" font-weight="bold" fill="#151515" stroke="#151515" stroke-width="0.12">Treatment concentration</text>
<text x="329.00" y="257.80" font-size="6.6" text-anchor="middle" font-weight="bold" fill="#151515" stroke="#151515" stroke-width="0.12">log (nmol/L)</text>
<text transform="translate(246.20,195.00) rotate(-90)" font-size="6.4" text-anchor="middle" font-weight="bold" fill="#151515" stroke="#151515" stroke-width="0.25">MSD Signal (RCL units)</text>
<line x1="71.50" y1="273.60" x2="71.50" y2="348.80" stroke="#1e1e1e" stroke-width="1.1" />
<line x1="71.00" y1="348.30" x2="182.80" y2="348.30" stroke="#1e1e1e" stroke-width="1.1" />
<line x1="69.20" y1="348.30" x2="71.50" y2="348.30" stroke="#1e1e1e" stroke-width="0.9" />
<text x="68.70" y="350.24" font-size="5.4" text-anchor="end" font-weight="bold" fill="#1c1c1c" stroke="#1c1c1c" stroke-width="0.18">0</text>
<line x1="69.20" y1="329.75" x2="71.50" y2="329.75" stroke="#1e1e1e" stroke-width="0.9" />
<text x="68.70" y="331.69" font-size="5.4" text-anchor="end" font-weight="bold" fill="#1c1c1c" stroke="#1c1c1c" stroke-width="0.18">5,000</text>
<line x1="69.20" y1="311.20" x2="71.50" y2="311.20" stroke="#1e1e1e" stroke-width="0.9" />
<text x="68.70" y="313.14" font-size="5.4" text-anchor="end" font-weight="bold" fill="#1c1c1c" stroke="#1c1c1c" stroke-width="0.18">10,000</text>
<line x1="69.20" y1="292.65" x2="71.50" y2="292.65" stroke="#1e1e1e" stroke-width="0.9" />
<text x="68.70" y="294.59" font-size="5.4" text-anchor="end" font-weight="bold" fill="#1c1c1c" stroke="#1c1c1c" stroke-width="0.18">15,000</text>
<line x1="69.20" y1="274.10" x2="71.50" y2="274.10" stroke="#1e1e1e" stroke-width="0.9" />
<text x="68.70" y="276.04" font-size="5.4" text-anchor="end" font-weight="bold" fill="#1c1c1c" stroke="#1c1c1c" stroke-width="0.18">20,000</text>
<line x1="71.20" y1="348.30" x2="71.20" y2="350.50" stroke="#1e1e1e" stroke-width="0.9" />
<text x="71.20" y="356.60" font-size="5.1" text-anchor="middle" font-weight="bold" fill="#1c1c1c" stroke="#1c1c1c" stroke-width="0.18">−4</text>
<line x1="99.00" y1="348.30" x2="99.00" y2="350.50" stroke="#1e1e1e" stroke-width="0.9" />
<text x="99.00" y="356.60" font-size="5.1" text-anchor="middle" font-weight="bold" fill="#1c1c1c" stroke="#1c1c1c" stroke-width="0.18">−2</text>
<line x1="126.80" y1="348.30" x2="126.80" y2="350.50" stroke="#1e1e1e" stroke-width="0.9" />
<text x="126.80" y="356.60" font-size="5.1" text-anchor="middle" font-weight="bold" fill="#1c1c1c" stroke="#1c1c1c" stroke-width="0.18">0</text>
<line x1="154.60" y1="348.30" x2="154.60" y2="350.50" stroke="#1e1e1e" stroke-width="0.9" />
<text x="154.60" y="356.60" font-size="5.1" text-anchor="middle" font-weight="bold" fill="#1c1c1c" stroke="#1c1c1c" stroke-width="0.18">2</text>
<line x1="182.40" y1="348.30" x2="182.40" y2="350.50" stroke="#1e1e1e" stroke-width="0.9" />
<text x="182.40" y="356.60" font-size="5.1" text-anchor="middle" font-weight="bold" fill="#1c1c1c" stroke="#1c1c1c" stroke-width="0.18">4</text>
<line x1="71.50" y1="300.50" x2="183.50" y2="300.50" stroke="#111" stroke-width="1.5" stroke-dasharray="2.8,2.2"/>
<path d="M100.60,303.78L101.33,303.78L102.07,303.78L102.80,303.78L103.53,303.78L104.27,303.78L105.00,303.78L105.73,303.78L106.47,303.78L107.20,303.78L107.93,303.78L108.67,303.78L109.40,303.78L110.13,303.78L110.87,303.78L111.60,303.78L112.33,303.78L113.07,303.78L113.80,303.78L114.53,303.78L115.27,303.78L116.00,303.78L116.73,303.78L117.47,303.78L118.20,303.78L118.93,303.78L119.67,303.78L120.40,303.78L121.13,303.78L121.87,303.78L122.60,303.78L123.33,303.78L124.07,303.78L124.80,303.78L125.53,303.78L126.27,303.78L127.00,303.78L127.73,303.78L128.47,303.78L129.20,303.78L129.93,303.78L130.67,303.78L131.40,303.78L132.13,303.78L132.87,303.78L133.60,303.78L134.33,303.78L135.07,303.78L135.80,303.78L136.53,303.78L137.27,303.78L138.00,303.78L138.74,303.78L139.47,303.78L140.20,303.78L140.94,303.78L141.67,303.78L142.40,303.78L143.14,303.78L143.87,303.78L144.60,303.79L145.34,303.79L146.07,303.79L146.80,303.79L147.54,303.80L148.27,303.80L149.00,303.81L149.74,303.83L150.47,303.84L151.20,303.87L151.94,303.90L152.67,303.94L153.40,304.00L154.14,304.08L154.87,304.18L155.60,304.33L156.34,304.52L157.07,304.79L157.80,305.14L158.54,305.60L159.27,306.21L160.00,306.99L160.74,307.99L161.47,309.21L162.20,310.68L162.94,312.38L163.67,314.26L164.40,316.27L165.14,318.29L165.87,320.25L166.60,322.05" stroke="#4a1a40" stroke-width="1.15" fill="none" />
<path d="M98.30,305.68L102.90,305.68L100.60,301.28Z" fill="#4a1a40"/>
<path d="M105.03,305.68L109.63,305.68L107.33,301.28Z" fill="#4a1a40"/>
<path d="M111.77,305.68L116.37,305.68L114.07,301.28Z" fill="#4a1a40"/>
<path d="M118.50,305.68L123.10,305.68L120.80,301.28Z" fill="#4a1a40"/>
<path d="M125.24,305.68L129.84,305.68L127.54,301.28Z" fill="#4a1a40"/>
<path d="M131.97,305.68L136.58,305.68L134.28,301.28Z" fill="#4a1a40"/>
<path d="M138.71,305.68L143.31,305.68L141.01,301.28Z" fill="#4a1a40"/>
<path d="M145.44,305.70L150.05,305.70L147.75,301.30Z" fill="#4a1a40"/>
<path d="M152.18,306.02L156.78,306.02L154.48,301.62Z" fill="#4a1a40"/>
<path d="M158.91,310.66L163.52,310.66L161.22,306.26Z" fill="#4a1a40"/>
<path d="M164.30,323.95L168.90,323.95L166.60,319.55Z" fill="#4a1a40"/>
<path d="M100.60,297.55L101.33,297.55L102.07,297.56L102.80,297.57L103.53,297.58L104.27,297.59L105.00,297.60L105.73,297.61L106.47,297.62L107.20,297.64L107.93,297.65L108.67,297.67L109.40,297.69L110.13,297.71L110.87,297.73L111.60,297.75L112.33,297.78L113.07,297.80L113.80,297.83L114.53,297.87L115.27,297.90L116.00,297.94L116.73,297.98L117.47,298.03L118.20,298.08L118.93,298.13L119.67,298.19L120.40,298.26L121.13,298.33L121.87,298.41L122.60,298.49L123.33,298.58L124.07,298.68L124.80,298.79L125.53,298.90L126.27,299.03L127.00,299.17L127.73,299.32L128.47,299.48L129.20,299.66L129.93,299.85L130.67,300.05L131.40,300.27L132.13,300.51L132.87,300.77L133.60,301.05L134.33,301.35L135.07,301.68L135.80,302.03L136.53,302.40L137.27,302.80L138.00,303.23L138.74,303.69L139.47,304.18L140.20,304.70L140.94,305.25L141.67,305.84L142.40,306.46L143.14,307.12L143.87,307.81L144.60,308.53L145.34,309.29L146.07,310.08L146.80,310.91L147.54,311.77L148.27,312.66L149.00,313.58L149.74,314.52L150.47,315.48L151.20,316.47L151.94,317.47L152.67,318.49L153.40,319.51L154.14,320.55L154.87,321.58L155.60,322.61L156.34,323.64L157.07,324.65L157.80,325.65L158.54,326.64L159.27,327.60L160.00,328.54L160.74,329.46L161.47,330.35L162.20,331.20L162.94,332.03L163.67,332.82L164.40,333.58L165.14,334.30L165.87,334.99L166.60,335.64" stroke="#23723f" stroke-width="1.15" fill="none" />
<path d="M98.30,295.65L102.90,295.65L100.60,300.05Z" fill="#23723f"/>
<path d="M105.03,295.74L109.63,295.74L107.33,300.14Z" fill="#23723f"/>
<path d="M111.77,295.94L116.37,295.94L114.07,300.34Z" fill="#23723f"/>
<path d="M118.50,296.40L123.10,296.40L120.80,300.80Z" fill="#23723f"/>
<path d="M125.24,297.38L129.84,297.38L127.54,301.78Z" fill="#23723f"/>
<path d="M131.97,299.43L136.58,299.43L134.28,303.83Z" fill="#23723f"/>
<path d="M138.71,303.41L143.31,303.41L141.01,307.81Z" fill="#23723f"/>
<line x1="147.75" y1="309.80" x2="147.75" y2="314.25" stroke="#23723f" stroke-width="1.0" />
<line x1="146.05" y1="309.80" x2="149.44" y2="309.80" stroke="#23723f" stroke-width="1.0" />
<line x1="146.05" y1="314.25" x2="149.44" y2="314.25" stroke="#23723f" stroke-width="1.0" />
<path d="M145.44,310.12L150.05,310.12L147.75,314.52Z" fill="#23723f"/>
<path d="M152.18,319.13L156.78,319.13L154.48,323.53Z" fill="#23723f"/>
<path d="M158.91,328.14L163.52,328.14L161.22,332.54Z" fill="#23723f"/>
<path d="M164.30,333.74L168.90,333.74L166.60,338.14Z" fill="#23723f"/>
<path d="M100.60,294.18L101.33,294.19L102.07,294.19L102.80,294.20L103.53,294.21L104.27,294.21L105.00,294.22L105.73,294.23L106.47,294.24L107.20,294.25L107.93,294.26L108.67,294.27L109.40,294.29L110.13,294.30L110.87,294.32L111.60,294.34L112.33,294.36L113.07,294.38L113.80,294.40L114.53,294.43L115.27,294.46L116.00,294.49L116.73,294.52L117.47,294.56L118.20,294.60L118.93,294.65L119.67,294.70L120.40,294.76L121.13,294.82L121.87,294.88L122.60,294.96L123.33,295.04L124.07,295.12L124.80,295.22L125.53,295.32L126.27,295.44L127.00,295.56L127.73,295.70L128.47,295.85L129.20,296.01L129.93,296.19L130.67,296.38L131.40,296.59L132.13,296.83L132.87,297.08L133.60,297.35L134.33,297.65L135.07,297.97L135.80,298.32L136.53,298.69L137.27,299.10L138.00,299.54L138.74,300.02L139.47,300.53L140.20,301.08L140.94,301.67L141.67,302.30L142.40,302.97L143.14,303.69L143.87,304.45L144.60,305.26L145.34,306.11L146.07,307.02L146.80,307.96L147.54,308.95L148.27,309.98L149.00,311.06L149.74,312.17L150.47,313.32L151.20,314.50L151.94,315.71L152.67,316.94L153.40,318.19L154.14,319.45L154.87,320.72L155.60,322.00L156.34,323.27L157.07,324.53L157.80,325.77L158.54,327.00L159.27,328.20L160.00,329.37L160.74,330.52L161.47,331.62L162.20,332.69L162.94,333.71L163.67,334.69L164.40,335.62L165.14,336.51L165.87,337.36L166.60,338.16" stroke="#3e4ca4" stroke-width="1.15" fill="none" />
<line x1="100.60" y1="292.70" x2="100.60" y2="295.67" stroke="#3e4ca4" stroke-width="1.0" />
<line x1="98.90" y1="292.70" x2="102.30" y2="292.70" stroke="#3e4ca4" stroke-width="1.0" />
<line x1="98.90" y1="295.67" x2="102.30" y2="295.67" stroke="#3e4ca4" stroke-width="1.0" />
<rect x="98.70" y="292.28" width="3.80" height="3.80" fill="#3e4ca4"/>
<line x1="107.33" y1="292.77" x2="107.33" y2="295.74" stroke="#3e4ca4" stroke-width="1.0" />
<line x1="105.63" y1="292.77" x2="109.03" y2="292.77" stroke="#3e4ca4" stroke-width="1.0" />
<line x1="105.63" y1="295.74" x2="109.03" y2="295.74" stroke="#3e4ca4" stroke-width="1.0" />
<rect x="105.43" y="292.35" width="3.80" height="3.80" fill="#3e4ca4"/>
<line x1="114.07" y1="292.93" x2="114.07" y2="295.90" stroke="#3e4ca4" stroke-width="1.0" />
<line x1="112.37" y1="292.93" x2="115.77" y2="292.93" stroke="#3e4ca4" stroke-width="1.0" />
<line x1="112.37" y1="295.90" x2="115.77" y2="295.90" stroke="#3e4ca4" stroke-width="1.0" />
<rect x="112.17" y="292.51" width="3.80" height="3.80" fill="#3e4ca4"/>
<line x1="120.80" y1="293.30" x2="120.80" y2="296.27" stroke="#3e4ca4" stroke-width="1.0" />
<line x1="119.10" y1="293.30" x2="122.50" y2="293.30" stroke="#3e4ca4" stroke-width="1.0" />
<line x1="119.10" y1="296.27" x2="122.50" y2="296.27" stroke="#3e4ca4" stroke-width="1.0" />
<rect x="118.90" y="292.89" width="3.80" height="3.80" fill="#3e4ca4"/>
<line x1="127.54" y1="294.18" x2="127.54" y2="297.14" stroke="#3e4ca4" stroke-width="1.0" />
<line x1="125.84" y1="294.18" x2="129.24" y2="294.18" stroke="#3e4ca4" stroke-width="1.0" />
<line x1="125.84" y1="297.14" x2="129.24" y2="297.14" stroke="#3e4ca4" stroke-width="1.0" />
<rect x="125.64" y="293.76" width="3.80" height="3.80" fill="#3e4ca4"/>
<rect x="132.38" y="295.72" width="3.80" height="3.80" fill="#3e4ca4"/>
<rect x="139.11" y="299.83" width="3.80" height="3.80" fill="#3e4ca4"/>
<rect x="145.84" y="307.34" width="3.80" height="3.80" fill="#3e4ca4"/>
<rect x="152.58" y="318.15" width="3.80" height="3.80" fill="#3e4ca4"/>
<rect x="159.31" y="329.34" width="3.80" height="3.80" fill="#3e4ca4"/>
<rect x="164.70" y="337.93" width="3.80" height="3.80" fill="#3e4ca4"/>
<path d="M100.60,299.14L101.33,299.14L102.07,299.14L102.80,299.14L103.53,299.14L104.27,299.14L105.00,299.14L105.73,299.14L106.47,299.14L107.20,299.14L107.93,299.14L108.67,299.14L109.40,299.14L110.13,299.14L110.87,299.14L111.60,299.14L112.33,299.14L113.07,299.15L113.80,299.15L114.53,299.15L115.27,299.15L116.00,299.16L116.73,299.17L117.47,299.18L118.20,299.19L118.93,299.22L119.67,299.25L120.40,299.30L121.13,299.37L121.87,299.47L122.60,299.62L123.33,299.83L124.07,300.13L124.80,300.56L125.53,301.17L126.27,302.02L127.00,303.18L127.73,304.72L128.47,306.70L129.20,309.13L129.93,311.97L130.67,315.07L131.40,318.25L132.13,321.29L132.87,324.00L133.60,326.27L134.33,328.10L135.07,329.50L135.80,330.54L136.53,331.29L137.27,331.84L138.00,332.22L138.74,332.49L139.47,332.67L140.20,332.80L140.94,332.89L141.67,332.95L142.40,333.00L143.14,333.02L143.87,333.04L144.60,333.06L145.34,333.07L146.07,333.07L146.80,333.08L147.54,333.08L148.27,333.08L149.00,333.09L149.74,333.09L150.47,333.09L151.20,333.09L151.94,333.09L152.67,333.09L153.40,333.09L154.14,333.09L154.87,333.09L155.60,333.09L156.34,333.09L157.07,333.09L157.80,333.09L158.54,333.09L159.27,333.09L160.00,333.09L160.74,333.09L161.47,333.09L162.20,333.09L162.94,333.09L163.67,333.09L164.40,333.09L165.14,333.09L165.87,333.09L166.60,333.09" stroke="#a82230" stroke-width="1.15" fill="none" />
<circle cx="100.60" cy="299.14" r="1.90" fill="#a82230"/>
<circle cx="107.33" cy="299.14" r="1.90" fill="#a82230"/>
<circle cx="114.07" cy="299.15" r="1.90" fill="#a82230"/>
<circle cx="120.80" cy="299.33" r="1.90" fill="#a82230"/>
<circle cx="127.54" cy="304.27" r="1.90" fill="#a82230"/>
<circle cx="134.28" cy="324.62" r="1.90" fill="#a82230"/>
<circle cx="141.01" cy="329.93" r="1.90" fill="#a82230"/>
<circle cx="147.75" cy="330.11" r="1.90" fill="#a82230"/>
<circle cx="154.48" cy="332.35" r="1.90" fill="#a82230"/>
<circle cx="161.22" cy="334.94" r="1.90" fill="#a82230"/>
<circle cx="166.60" cy="333.09" r="1.90" fill="#a82230"/>
<text x="156.80" y="288.60" font-size="6.5" text-anchor="start" font-weight="bold" fill="#151515" stroke="#151515" stroke-width="0.15"><tspan font-style="italic">n</tspan> = 3</text>
<text x="184.40" y="299.70" font-size="6.35" text-anchor="start" font-weight="bold" fill="#151515" stroke="#151515" stroke-width="0.12">Vehicle</text>
<text x="184.40" y="307.40" font-size="6.35" text-anchor="start" font-weight="bold" fill="#151515" stroke="#151515" stroke-width="0.12">control</text>
<text x="127.50" y="364.40" font-size="6.6" text-anchor="middle" font-weight="bold" fill="#151515" stroke="#151515" stroke-width="0.12">Treatment concentration</text>
<text x="127.50" y="372.20" font-size="6.6" text-anchor="middle" font-weight="bold" fill="#151515" stroke="#151515" stroke-width="0.12">log (nmol/L)</text>
<text transform="translate(47.40,311.00) rotate(-90)" font-size="6.4" text-anchor="middle" font-weight="bold" fill="#151515" stroke="#151515" stroke-width="0.25">MSD Signal (RCL units)</text>
<line x1="271.50" y1="275.50" x2="271.50" y2="350.50" stroke="#1e1e1e" stroke-width="1.1" />
<line x1="271.00" y1="350.00" x2="382.20" y2="350.00" stroke="#1e1e1e" stroke-width="1.1" />
<line x1="269.20" y1="350.00" x2="271.50" y2="350.00" stroke="#1e1e1e" stroke-width="0.9" />
<text x="268.70" y="351.94" font-size="5.4" text-anchor="end" font-weight="bold" fill="#1c1c1c" stroke="#1c1c1c" stroke-width="0.18">0</text>
<line x1="269.20" y1="335.20" x2="271.50" y2="335.20" stroke="#1e1e1e" stroke-width="0.9" />
<text x="268.70" y="337.14" font-size="5.4" text-anchor="end" font-weight="bold" fill="#1c1c1c" stroke="#1c1c1c" stroke-width="0.18">10,000</text>
<line x1="269.20" y1="320.40" x2="271.50" y2="320.40" stroke="#1e1e1e" stroke-width="0.9" />
<text x="268.70" y="322.34" font-size="5.4" text-anchor="end" font-weight="bold" fill="#1c1c1c" stroke="#1c1c1c" stroke-width="0.18">20,000</text>
<line x1="269.20" y1="305.60" x2="271.50" y2="305.60" stroke="#1e1e1e" stroke-width="0.9" />
<text x="268.70" y="307.54" font-size="5.4" text-anchor="end" font-weight="bold" fill="#1c1c1c" stroke="#1c1c1c" stroke-width="0.18">30,000</text>
<line x1="269.20" y1="290.80" x2="271.50" y2="290.80" stroke="#1e1e1e" stroke-width="0.9" />
<text x="268.70" y="292.74" font-size="5.4" text-anchor="end" font-weight="bold" fill="#1c1c1c" stroke="#1c1c1c" stroke-width="0.18">40,000</text>
<line x1="269.20" y1="276.00" x2="271.50" y2="276.00" stroke="#1e1e1e" stroke-width="0.9" />
<text x="268.70" y="277.94" font-size="5.4" text-anchor="end" font-weight="bold" fill="#1c1c1c" stroke="#1c1c1c" stroke-width="0.18">50,000</text>
<line x1="271.40" y1="350.00" x2="271.40" y2="352.20" stroke="#1e1e1e" stroke-width="0.9" />
<text x="271.40" y="357.80" font-size="5.1" text-anchor="middle" font-weight="bold" fill="#1c1c1c" stroke="#1c1c1c" stroke-width="0.18">−4</text>
<line x1="299.00" y1="350.00" x2="299.00" y2="352.20" stroke="#1e1e1e" stroke-width="0.9" />
<text x="299.00" y="357.80" font-size="5.1" text-anchor="middle" font-weight="bold" fill="#1c1c1c" stroke="#1c1c1c" stroke-width="0.18">−2</text>
<line x1="326.60" y1="350.00" x2="326.60" y2="352.20" stroke="#1e1e1e" stroke-width="0.9" />
<text x="326.60" y="357.80" font-size="5.1" text-anchor="middle" font-weight="bold" fill="#1c1c1c" stroke="#1c1c1c" stroke-width="0.18">0</text>
<line x1="354.20" y1="350.00" x2="354.20" y2="352.20" stroke="#1e1e1e" stroke-width="0.9" />
<text x="354.20" y="357.80" font-size="5.1" text-anchor="middle" font-weight="bold" fill="#1c1c1c" stroke="#1c1c1c" stroke-width="0.18">2</text>
<line x1="381.80" y1="350.00" x2="381.80" y2="352.20" stroke="#1e1e1e" stroke-width="0.9" />
<text x="381.80" y="357.80" font-size="5.1" text-anchor="middle" font-weight="bold" fill="#1c1c1c" stroke="#1c1c1c" stroke-width="0.18">4</text>
<line x1="271.50" y1="289.80" x2="382.50" y2="289.80" stroke="#111" stroke-width="1.0" stroke-dasharray="1.9,1.6"/>
<line x1="300.60" y1="281.18" x2="300.60" y2="291.54" stroke="#4a1a40" stroke-width="1.0" />
<line x1="298.90" y1="281.18" x2="302.30" y2="281.18" stroke="#4a1a40" stroke-width="1.0" />
<line x1="298.90" y1="291.54" x2="302.30" y2="291.54" stroke="#4a1a40" stroke-width="1.0" />
<path d="M298.30,288.26L302.90,288.26L300.60,283.86Z" fill="#4a1a40"/>
<line x1="307.35" y1="281.18" x2="307.35" y2="290.06" stroke="#4a1a40" stroke-width="1.0" />
<line x1="305.65" y1="281.18" x2="309.05" y2="281.18" stroke="#4a1a40" stroke-width="1.0" />
<line x1="305.65" y1="290.06" x2="309.05" y2="290.06" stroke="#4a1a40" stroke-width="1.0" />
<path d="M305.05,287.52L309.65,287.52L307.35,283.12Z" fill="#4a1a40"/>
<line x1="314.09" y1="284.14" x2="314.09" y2="291.54" stroke="#4a1a40" stroke-width="1.0" />
<line x1="312.39" y1="284.14" x2="315.79" y2="284.14" stroke="#4a1a40" stroke-width="1.0" />
<line x1="312.39" y1="291.54" x2="315.79" y2="291.54" stroke="#4a1a40" stroke-width="1.0" />
<path d="M311.79,289.74L316.39,289.74L314.09,285.34Z" fill="#4a1a40"/>
<line x1="320.84" y1="286.36" x2="320.84" y2="292.28" stroke="#4a1a40" stroke-width="1.0" />
<line x1="319.14" y1="286.36" x2="322.54" y2="286.36" stroke="#4a1a40" stroke-width="1.0" />
<line x1="319.14" y1="292.28" x2="322.54" y2="292.28" stroke="#4a1a40" stroke-width="1.0" />
<path d="M318.54,291.22L323.14,291.22L320.84,286.82Z" fill="#4a1a40"/>
<line x1="327.58" y1="287.10" x2="327.58" y2="293.02" stroke="#4a1a40" stroke-width="1.0" />
<line x1="325.88" y1="287.10" x2="329.28" y2="287.10" stroke="#4a1a40" stroke-width="1.0" />
<line x1="325.88" y1="293.02" x2="329.28" y2="293.02" stroke="#4a1a40" stroke-width="1.0" />
<path d="M325.28,291.96L329.88,291.96L327.58,287.56Z" fill="#4a1a40"/>
<path d="M332.03,292.26L336.63,292.26L334.33,287.86Z" fill="#4a1a40"/>
<line x1="341.07" y1="289.91" x2="341.07" y2="295.83" stroke="#4a1a40" stroke-width="1.0" />
<line x1="339.37" y1="289.91" x2="342.77" y2="289.91" stroke="#4a1a40" stroke-width="1.0" />
<line x1="339.37" y1="295.83" x2="342.77" y2="295.83" stroke="#4a1a40" stroke-width="1.0" />
<path d="M338.77,294.77L343.37,294.77L341.07,290.37Z" fill="#4a1a40"/>
<line x1="347.82" y1="285.32" x2="347.82" y2="291.24" stroke="#4a1a40" stroke-width="1.0" />
<line x1="346.12" y1="285.32" x2="349.52" y2="285.32" stroke="#4a1a40" stroke-width="1.0" />
<line x1="346.12" y1="291.24" x2="349.52" y2="291.24" stroke="#4a1a40" stroke-width="1.0" />
<path d="M345.52,290.18L350.12,290.18L347.82,285.78Z" fill="#4a1a40"/>
<line x1="354.56" y1="285.92" x2="354.56" y2="294.80" stroke="#4a1a40" stroke-width="1.0" />
<line x1="352.86" y1="285.92" x2="356.26" y2="285.92" stroke="#4a1a40" stroke-width="1.0" />
<line x1="352.86" y1="294.80" x2="356.26" y2="294.80" stroke="#4a1a40" stroke-width="1.0" />
<path d="M352.26,292.26L356.86,292.26L354.56,287.86Z" fill="#4a1a40"/>
<line x1="361.31" y1="281.03" x2="361.31" y2="286.95" stroke="#4a1a40" stroke-width="1.0" />
<line x1="359.61" y1="281.03" x2="363.00" y2="281.03" stroke="#4a1a40" stroke-width="1.0" />
<line x1="359.61" y1="286.95" x2="363.00" y2="286.95" stroke="#4a1a40" stroke-width="1.0" />
<path d="M359.00,285.89L363.61,285.89L361.31,281.49Z" fill="#4a1a40"/>
<line x1="368.05" y1="280.29" x2="368.05" y2="287.69" stroke="#4a1a40" stroke-width="1.0" />
<line x1="366.35" y1="280.29" x2="369.75" y2="280.29" stroke="#4a1a40" stroke-width="1.0" />
<line x1="366.35" y1="287.69" x2="369.75" y2="287.69" stroke="#4a1a40" stroke-width="1.0" />
<path d="M365.75,285.89L370.35,285.89L368.05,281.49Z" fill="#4a1a40"/>
<path d="M300.60,294.29L301.35,294.33L302.10,294.36L302.85,294.40L303.60,294.44L304.35,294.49L305.10,294.53L305.85,294.58L306.60,294.64L307.35,294.69L308.09,294.75L308.84,294.82L309.59,294.88L310.34,294.96L311.09,295.03L311.84,295.11L312.59,295.20L313.34,295.29L314.09,295.38L314.84,295.49L315.59,295.59L316.34,295.71L317.09,295.83L317.84,295.96L318.59,296.09L319.34,296.24L320.09,296.39L320.84,296.55L321.58,296.71L322.33,296.89L323.08,297.08L323.83,297.27L324.58,297.48L325.33,297.70L326.08,297.93L326.83,298.17L327.58,298.42L328.33,298.68L329.08,298.96L329.83,299.24L330.58,299.54L331.33,299.86L332.08,300.18L332.83,300.52L333.58,300.88L334.33,301.24L335.07,301.62L335.82,302.02L336.57,302.42L337.32,302.84L338.07,303.28L338.82,303.72L339.57,304.18L340.32,304.65L341.07,305.12L341.82,305.61L342.57,306.11L343.32,306.62L344.07,307.14L344.82,307.66L345.57,308.19L346.32,308.72L347.07,309.26L347.82,309.80L348.56,310.34L349.31,310.89L350.06,311.43L350.81,311.98L351.56,312.52L352.31,313.05L353.06,313.58L353.81,314.11L354.56,314.63L355.31,315.14L356.06,315.65L356.81,316.14L357.56,316.63L358.31,317.10L359.06,317.57L359.81,318.02L360.56,318.46L361.31,318.89L362.05,319.30L362.80,319.70L363.55,320.09L364.30,320.46L365.05,320.83L365.80,321.17L366.55,321.51L367.30,321.83L368.05,322.14" stroke="#23723f" stroke-width="1.15" fill="none" />
<line x1="300.60" y1="290.80" x2="300.60" y2="298.20" stroke="#23723f" stroke-width="1.0" />
<line x1="298.90" y1="290.80" x2="302.30" y2="290.80" stroke="#23723f" stroke-width="1.0" />
<line x1="298.90" y1="298.20" x2="302.30" y2="298.20" stroke="#23723f" stroke-width="1.0" />
<path d="M298.30,292.60L302.90,292.60L300.60,297.00Z" fill="#23723f"/>
<line x1="307.35" y1="289.32" x2="307.35" y2="299.68" stroke="#23723f" stroke-width="1.0" />
<line x1="305.65" y1="289.32" x2="309.05" y2="289.32" stroke="#23723f" stroke-width="1.0" />
<line x1="305.65" y1="299.68" x2="309.05" y2="299.68" stroke="#23723f" stroke-width="1.0" />
<path d="M305.05,292.60L309.65,292.60L307.35,297.00Z" fill="#23723f"/>
<line x1="314.09" y1="295.83" x2="314.09" y2="304.71" stroke="#23723f" stroke-width="1.0" />
<line x1="312.39" y1="295.83" x2="315.79" y2="295.83" stroke="#23723f" stroke-width="1.0" />
<line x1="312.39" y1="304.71" x2="315.79" y2="304.71" stroke="#23723f" stroke-width="1.0" />
<path d="M311.79,298.37L316.39,298.37L314.09,302.77Z" fill="#23723f"/>
<line x1="320.84" y1="292.28" x2="320.84" y2="299.68" stroke="#23723f" stroke-width="1.0" />
<line x1="319.14" y1="292.28" x2="322.54" y2="292.28" stroke="#23723f" stroke-width="1.0" />
<line x1="319.14" y1="299.68" x2="322.54" y2="299.68" stroke="#23723f" stroke-width="1.0" />
<path d="M318.54,294.08L323.14,294.08L320.84,298.48Z" fill="#23723f"/>
<path d="M325.28,295.86L329.88,295.86L327.58,300.26Z" fill="#23723f"/>
<line x1="334.33" y1="296.57" x2="334.33" y2="303.97" stroke="#23723f" stroke-width="1.0" />
<line x1="332.63" y1="296.57" x2="336.03" y2="296.57" stroke="#23723f" stroke-width="1.0" />
<line x1="332.63" y1="303.97" x2="336.03" y2="303.97" stroke="#23723f" stroke-width="1.0" />
<path d="M332.03,298.37L336.63,298.37L334.33,302.77Z" fill="#23723f"/>
<line x1="341.07" y1="303.08" x2="341.07" y2="310.48" stroke="#23723f" stroke-width="1.0" />
<line x1="339.37" y1="303.08" x2="342.77" y2="303.08" stroke="#23723f" stroke-width="1.0" />
<line x1="339.37" y1="310.48" x2="342.77" y2="310.48" stroke="#23723f" stroke-width="1.0" />
<path d="M338.77,304.88L343.37,304.88L341.07,309.28Z" fill="#23723f"/>
<line x1="347.82" y1="308.71" x2="347.82" y2="314.63" stroke="#23723f" stroke-width="1.0" />
<line x1="346.12" y1="308.71" x2="349.52" y2="308.71" stroke="#23723f" stroke-width="1.0" />
<line x1="346.12" y1="314.63" x2="349.52" y2="314.63" stroke="#23723f" stroke-width="1.0" />
<path d="M345.52,309.77L350.12,309.77L347.82,314.17Z" fill="#23723f"/>
<path d="M352.26,306.51L356.86,306.51L354.56,310.91Z" fill="#23723f"/>
<path d="M359.00,305.77L363.61,305.77L361.31,310.17Z" fill="#23723f"/>
<path d="M365.75,316.28L370.35,316.28L368.05,320.68Z" fill="#23723f"/>
<path d="M300.60,290.08L301.35,290.08L302.10,290.08L302.85,290.09L303.60,290.09L304.35,290.09L305.10,290.10L305.85,290.10L306.60,290.10L307.35,290.11L308.09,290.12L308.84,290.12L309.59,290.13L310.34,290.13L311.09,290.14L311.84,290.15L312.59,290.16L313.34,290.17L314.09,290.18L314.84,290.20L315.59,290.21L316.34,290.23L317.09,290.25L317.84,290.27L318.59,290.29L319.34,290.31L320.09,290.34L320.84,290.37L321.58,290.40L322.33,290.44L323.08,290.48L323.83,290.53L324.58,290.58L325.33,290.63L326.08,290.69L326.83,290.76L327.58,290.83L328.33,290.91L329.08,291.00L329.83,291.10L330.58,291.21L331.33,291.33L332.08,291.46L332.83,291.61L333.58,291.77L334.33,291.94L335.07,292.13L335.82,292.34L336.57,292.57L337.32,292.82L338.07,293.10L338.82,293.40L339.57,293.72L340.32,294.07L341.07,294.46L341.82,294.87L342.57,295.31L343.32,295.80L344.07,296.31L344.82,296.86L345.57,297.45L346.32,298.08L347.07,298.75L347.82,299.45L348.56,300.19L349.31,300.96L350.06,301.77L350.81,302.62L351.56,303.49L352.31,304.39L353.06,305.31L353.81,306.24L354.56,307.20L355.31,308.16L356.06,309.12L356.81,310.09L357.56,311.05L358.31,311.99L359.06,312.92L359.81,313.84L360.56,314.72L361.31,315.58L362.05,316.41L362.80,317.21L363.55,317.97L364.30,318.70L365.05,319.39L365.80,320.04L366.55,320.65L367.30,321.22L368.05,321.76" stroke="#3e4ca4" stroke-width="1.15" fill="none" />
<line x1="300.60" y1="286.36" x2="300.60" y2="292.28" stroke="#3e4ca4" stroke-width="1.0" />
<line x1="298.90" y1="286.36" x2="302.30" y2="286.36" stroke="#3e4ca4" stroke-width="1.0" />
<line x1="298.90" y1="292.28" x2="302.30" y2="292.28" stroke="#3e4ca4" stroke-width="1.0" />
<rect x="298.70" y="287.42" width="3.80" height="3.80" fill="#3e4ca4"/>
<line x1="307.35" y1="285.62" x2="307.35" y2="291.54" stroke="#3e4ca4" stroke-width="1.0" />
<line x1="305.65" y1="285.62" x2="309.05" y2="285.62" stroke="#3e4ca4" stroke-width="1.0" />
<line x1="305.65" y1="291.54" x2="309.05" y2="291.54" stroke="#3e4ca4" stroke-width="1.0" />
<rect x="305.45" y="286.68" width="3.80" height="3.80" fill="#3e4ca4"/>
<line x1="314.09" y1="287.84" x2="314.09" y2="293.76" stroke="#3e4ca4" stroke-width="1.0" />
<line x1="312.39" y1="287.84" x2="315.79" y2="287.84" stroke="#3e4ca4" stroke-width="1.0" />
<line x1="312.39" y1="293.76" x2="315.79" y2="293.76" stroke="#3e4ca4" stroke-width="1.0" />
<rect x="312.19" y="288.90" width="3.80" height="3.80" fill="#3e4ca4"/>
<line x1="320.84" y1="281.92" x2="320.84" y2="290.80" stroke="#3e4ca4" stroke-width="1.0" />
<line x1="319.14" y1="281.92" x2="322.54" y2="281.92" stroke="#3e4ca4" stroke-width="1.0" />
<line x1="319.14" y1="290.80" x2="322.54" y2="290.80" stroke="#3e4ca4" stroke-width="1.0" />
<rect x="318.94" y="284.46" width="3.80" height="3.80" fill="#3e4ca4"/>
<line x1="327.58" y1="288.28" x2="327.58" y2="295.68" stroke="#3e4ca4" stroke-width="1.0" />
<line x1="325.88" y1="288.28" x2="329.28" y2="288.28" stroke="#3e4ca4" stroke-width="1.0" />
<line x1="325.88" y1="295.68" x2="329.28" y2="295.68" stroke="#3e4ca4" stroke-width="1.0" />
<rect x="325.68" y="290.08" width="3.80" height="3.80" fill="#3e4ca4"/>
<rect x="332.43" y="288.90" width="3.80" height="3.80" fill="#3e4ca4"/>
<rect x="339.17" y="292.30" width="3.80" height="3.80" fill="#3e4ca4"/>
<line x1="347.82" y1="301.31" x2="347.82" y2="305.75" stroke="#3e4ca4" stroke-width="1.0" />
<line x1="346.12" y1="301.31" x2="349.52" y2="301.31" stroke="#3e4ca4" stroke-width="1.0" />
<line x1="346.12" y1="305.75" x2="349.52" y2="305.75" stroke="#3e4ca4" stroke-width="1.0" />
<rect x="345.92" y="301.63" width="3.80" height="3.80" fill="#3e4ca4"/>
<line x1="354.56" y1="304.56" x2="354.56" y2="309.00" stroke="#3e4ca4" stroke-width="1.0" />
<line x1="352.86" y1="304.56" x2="356.26" y2="304.56" stroke="#3e4ca4" stroke-width="1.0" />
<line x1="352.86" y1="309.00" x2="356.26" y2="309.00" stroke="#3e4ca4" stroke-width="1.0" />
<rect x="352.66" y="304.88" width="3.80" height="3.80" fill="#3e4ca4"/>
<line x1="361.31" y1="313.59" x2="361.31" y2="318.03" stroke="#3e4ca4" stroke-width="1.0" />
<line x1="359.61" y1="313.59" x2="363.00" y2="313.59" stroke="#3e4ca4" stroke-width="1.0" />
<line x1="359.61" y1="318.03" x2="363.00" y2="318.03" stroke="#3e4ca4" stroke-width="1.0" />
<rect x="359.41" y="313.91" width="3.80" height="3.80" fill="#3e4ca4"/>
<line x1="368.05" y1="318.48" x2="368.05" y2="322.92" stroke="#3e4ca4" stroke-width="1.0" />
<line x1="366.35" y1="318.48" x2="369.75" y2="318.48" stroke="#3e4ca4" stroke-width="1.0" />
<line x1="366.35" y1="322.92" x2="369.75" y2="322.92" stroke="#3e4ca4" stroke-width="1.0" />
<rect x="366.15" y="318.80" width="3.80" height="3.80" fill="#3e4ca4"/>
<path d="M300.60,289.33L301.35,289.33L302.10,289.33L302.85,289.33L303.60,289.34L304.35,289.34L305.10,289.35L305.85,289.35L306.60,289.36L307.35,289.37L308.09,289.38L308.84,289.40L309.59,289.42L310.34,289.45L311.09,289.48L311.84,289.52L312.59,289.58L313.34,289.64L314.09,289.72L314.84,289.83L315.59,289.96L316.34,290.12L317.09,290.31L317.84,290.56L318.59,290.86L319.34,291.24L320.09,291.69L320.84,292.24L321.58,292.90L322.33,293.68L323.08,294.60L323.83,295.66L324.58,296.86L325.33,298.20L326.08,299.65L326.83,301.20L327.58,302.80L328.33,304.41L329.08,306.00L329.83,307.53L330.58,308.95L331.33,310.25L332.08,311.41L332.83,312.43L333.58,313.31L334.33,314.06L335.07,314.68L335.82,315.21L336.57,315.64L337.32,315.99L338.07,316.27L338.82,316.51L339.57,316.69L340.32,316.84L341.07,316.96L341.82,317.06L342.57,317.14L343.32,317.20L344.07,317.25L344.82,317.29L345.57,317.32L346.32,317.34L347.07,317.36L347.82,317.38L348.56,317.39L349.31,317.40L350.06,317.41L350.81,317.42L351.56,317.42L352.31,317.42L353.06,317.43L353.81,317.43L354.56,317.43L355.31,317.43L356.06,317.44L356.81,317.44L357.56,317.44L358.31,317.44L359.06,317.44L359.81,317.44L360.56,317.44L361.31,317.44L362.05,317.44L362.80,317.44L363.55,317.44L364.30,317.44L365.05,317.44L365.80,317.44L366.55,317.44L367.30,317.44L368.05,317.44" stroke="#a82230" stroke-width="1.15" fill="none" />
<line x1="300.60" y1="284.36" x2="300.60" y2="293.24" stroke="#a82230" stroke-width="1.0" />
<line x1="298.90" y1="284.36" x2="302.30" y2="284.36" stroke="#a82230" stroke-width="1.0" />
<line x1="298.90" y1="293.24" x2="302.30" y2="293.24" stroke="#a82230" stroke-width="1.0" />
<circle cx="300.60" cy="288.80" r="1.90" fill="#a82230"/>
<line x1="307.35" y1="281.03" x2="307.35" y2="289.91" stroke="#a82230" stroke-width="1.0" />
<line x1="305.65" y1="281.03" x2="309.05" y2="281.03" stroke="#a82230" stroke-width="1.0" />
<line x1="305.65" y1="289.91" x2="309.05" y2="289.91" stroke="#a82230" stroke-width="1.0" />
<circle cx="307.35" cy="285.47" r="1.90" fill="#a82230"/>
<line x1="314.09" y1="285.62" x2="314.09" y2="293.02" stroke="#a82230" stroke-width="1.0" />
<line x1="312.39" y1="285.62" x2="315.79" y2="285.62" stroke="#a82230" stroke-width="1.0" />
<line x1="312.39" y1="293.02" x2="315.79" y2="293.02" stroke="#a82230" stroke-width="1.0" />
<circle cx="314.09" cy="289.32" r="1.90" fill="#a82230"/>
<line x1="320.84" y1="287.10" x2="320.84" y2="293.02" stroke="#a82230" stroke-width="1.0" />
<line x1="319.14" y1="287.10" x2="322.54" y2="287.10" stroke="#a82230" stroke-width="1.0" />
<line x1="319.14" y1="293.02" x2="322.54" y2="293.02" stroke="#a82230" stroke-width="1.0" />
<circle cx="320.84" cy="290.06" r="1.90" fill="#a82230"/>
<circle cx="327.58" cy="304.27" r="1.90" fill="#a82230"/>
<circle cx="334.33" cy="312.26" r="1.90" fill="#a82230"/>
<line x1="341.07" y1="315.22" x2="341.07" y2="319.66" stroke="#a82230" stroke-width="1.0" />
<line x1="339.37" y1="315.22" x2="342.77" y2="315.22" stroke="#a82230" stroke-width="1.0" />
<line x1="339.37" y1="319.66" x2="342.77" y2="319.66" stroke="#a82230" stroke-width="1.0" />
<circle cx="341.07" cy="317.44" r="1.90" fill="#a82230"/>
<circle cx="347.82" cy="314.11" r="1.90" fill="#a82230"/>
<circle cx="354.56" cy="314.04" r="1.90" fill="#a82230"/>
<circle cx="361.31" cy="316.61" r="1.90" fill="#a82230"/>
<line x1="368.05" y1="315.96" x2="368.05" y2="320.40" stroke="#a82230" stroke-width="1.0" />
<line x1="366.35" y1="315.96" x2="369.75" y2="315.96" stroke="#a82230" stroke-width="1.0" />
<line x1="366.35" y1="320.40" x2="369.75" y2="320.40" stroke="#a82230" stroke-width="1.0" />
<circle cx="368.05" cy="318.18" r="1.90" fill="#a82230"/>
<text x="369.40" y="277.20" font-size="6.5" text-anchor="start" font-weight="bold" fill="#151515" stroke="#151515" stroke-width="0.15"><tspan font-style="italic">n</tspan> = 3</text>
<text x="387.80" y="287.90" font-size="6.35" text-anchor="start" font-weight="bold" fill="#151515" stroke="#151515" stroke-width="0.12">Vehicle</text>
<text x="387.80" y="295.60" font-size="6.35" text-anchor="start" font-weight="bold" fill="#151515" stroke="#151515" stroke-width="0.12">control</text>
<text x="328.30" y="366.00" font-size="6.6" text-anchor="middle" font-weight="bold" fill="#151515" stroke="#151515" stroke-width="0.12">Treatment concentration</text>
<text x="328.30" y="373.80" font-size="6.6" text-anchor="middle" font-weight="bold" fill="#151515" stroke="#151515" stroke-width="0.12">log (nmol/L)</text>
<text transform="translate(247.40,313.00) rotate(-90)" font-size="6.4" text-anchor="middle" font-weight="bold" fill="#151515" stroke="#151515" stroke-width="0.25">MSD Signal (RCL units)</text>
<text x="16.40" y="151.30" font-size="12" text-anchor="start" font-weight="bold" fill="#151515" stroke="#151515" stroke-width="0.7">B</text>
<text x="227.90" y="151.50" font-size="12" text-anchor="start" font-weight="bold" fill="#151515" stroke="#151515" stroke-width="0.7">C</text>
<text x="16.20" y="270.30" font-size="12" text-anchor="start" font-weight="bold" fill="#151515" stroke="#151515" stroke-width="0.7">D</text>
<text x="228.60" y="271.00" font-size="12" text-anchor="start" font-weight="bold" fill="#151515" stroke="#151515" stroke-width="0.7">E</text>
<text x="0.40" y="192.20" font-size="10.5" text-anchor="start" font-weight="bold" fill="#151515" stroke="#151515" stroke-width="0.5">H292</text>
<text x="0.60" y="313.20" font-size="10.5" text-anchor="start" font-weight="bold" fill="#151515" stroke="#151515" stroke-width="0.5">H1975</text>
<line x1="424.50" y1="214.80" x2="437.80" y2="214.80" stroke="#4a1a40" stroke-width="1.5" />
<path d="M428.21,217.27L434.19,217.27L431.20,211.55Z" fill="#4a1a40"/>
<text x="444.6" y="218.00" font-size="9.1" font-weight="bold" fill="#4a1a40" stroke="#4a1a40" stroke-width="0.22">EGFR <tspan font-weight="normal" font-size="10" dy="0.6" stroke-width="0.3">×</tspan><tspan dy="-0.6"> gp120</tspan></text>
<line x1="424.50" y1="229.30" x2="437.80" y2="229.30" stroke="#23723f" stroke-width="1.5" />
<path d="M428.21,226.83L434.19,226.83L431.20,232.55Z" fill="#23723f"/>
<text x="444.6" y="233.00" font-size="9.1" font-weight="bold" fill="#23723f" stroke="#23723f" stroke-width="0.22">gp120 <tspan font-weight="normal" font-size="10" dy="0.6" stroke-width="0.3">×</tspan><tspan dy="-0.6"> cMet</tspan></text>
<line x1="424.50" y1="246.20" x2="437.80" y2="246.20" stroke="#3e4ca4" stroke-width="1.5" />
<rect x="428.73" y="243.73" width="4.94" height="4.94" fill="#3e4ca4"/>
<text x="444.6" y="249.00" font-size="9.1" font-weight="bold" fill="#3e4ca4" stroke="#3e4ca4" stroke-width="0.22">(EGFR <tspan font-weight="normal" font-size="10" dy="0.6" stroke-width="0.3">×</tspan><tspan dy="-0.6"> gp120)+</tspan></text>
<line x1="424.50" y1="272.30" x2="437.80" y2="272.30" stroke="#a82230" stroke-width="1.5" />
<circle cx="431.20" cy="272.30" r="2.47" fill="#a82230"/>
<text x="444.6" y="261" font-size="9.1" font-weight="bold" fill="#3e4ca4" stroke="#3e4ca4" stroke-width="0.22">(gp120 <tspan font-weight="normal" font-size="10" dy="0.6" stroke-width="0.3">×</tspan><tspan dy="-0.6"> cMet)</tspan></text>
<text x="444.6" y="275" font-size="9.1" font-weight="bold" fill="#a82230" stroke="#a82230" stroke-width="0.22">JNJ-61186372</text>
</svg>
</body></html>
